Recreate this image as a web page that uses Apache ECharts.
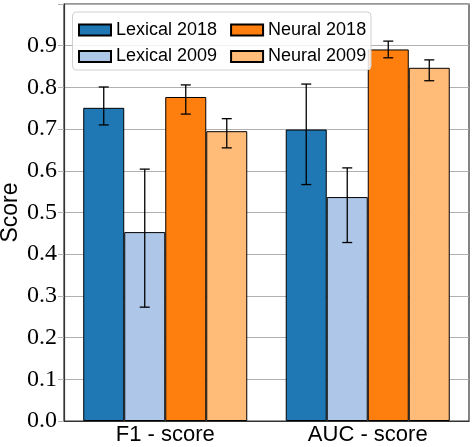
<!DOCTYPE html>
<html>
<head>
<meta charset="utf-8">
<script src="https://cdn.jsdelivr.net/npm/echarts@6/dist/echarts.min.js"></script>
<style>
html,body{margin:0;padding:0;background:#fff;}
#chart{width:475px;height:447px;}
</style>
</head>
<body>
<div id="chart"></div>
<script>
const categories = ['F1 - score', 'AUC - score'];
const seriesNames = ['Lexical 2018', 'Lexical 2009', 'Neural 2018', 'Neural 2009'];
const lexical2018 = [0.751, 0.699];
const lexical2009 = [0.453, 0.537];
const neural2018 = [0.777, 0.891];
const neural2009 = [0.695, 0.847];
// error bar [low, high] per category
const lexical2018Err = [[0.710, 0.801], [0.567, 0.808]];
const lexical2009Err = [[0.273, 0.604], [0.428, 0.607]];
const neural2018Err = [[0.736, 0.806], [0.871, 0.911]];
const neural2009Err = [[0.655, 0.725], [0.816, 0.866]];
const yTicks = [0.0, 0.1, 0.2, 0.3, 0.4, 0.5, 0.6, 0.7, 0.8, 0.9];

const colors = ['#1f77b4', '#aec7e8', '#ff7f0e', '#ffbb78'];
const values = [lexical2018, lexical2009, neural2018, neural2009];
const errs = [lexical2018Err, lexical2009Err, neural2018Err, neural2009Err];

const GROUP = 0.81;
const errData = [];
errs.forEach((arr, s) => arr.forEach((e, c) => errData.push([c, s, e[0], e[1]])));

const barSeries = seriesNames.map((n, i) => ({
  name: n,
  type: 'bar',
  data: values[i],
  barGap: '0%',
  barCategoryGap: '19%',
  itemStyle: { color: colors[i], borderColor: '#000', borderWidth: 1 },
  z: 3
}));

const errSeries = {
  type: 'custom',
  name: 'err',
  data: errData,
  encode: { x: 0, y: [2, 3] },
  z: 5,
  silent: true,
  renderItem: function (params, api) {
    const c = api.value(0), s = api.value(1);
    const lo = api.coord([c, api.value(2)]);
    const hi = api.coord([c, api.value(3)]);
    const band = api.size([1, 0])[0];
    const bw = band * GROUP / 4;
    const x = lo[0] + (s - 1.5) * bw;
    const cap = 5;
    const st = { stroke: '#000', lineWidth: 1.3 };
    return {
      type: 'group',
      children: [
        { type: 'line', shape: { x1: x, y1: lo[1], x2: x, y2: hi[1] }, style: st },
        { type: 'line', shape: { x1: x - cap, y1: lo[1], x2: x + cap, y2: lo[1] }, style: st },
        { type: 'line', shape: { x1: x - cap, y1: hi[1], x2: x + cap, y2: hi[1] }, style: st }
      ]
    };
  }
};

const legendText = { fontFamily: "'Liberation Sans', sans-serif", fontSize: 18, color: '#000', lineHeight: 18 };
const chart = echarts.init(document.getElementById('chart'), null, { renderer: 'canvas' });
chart.setOption({
  animation: false,
  backgroundColor: '#fff',
  grid: { left: 64, right: 6, top: 4, bottom: 26, show: true, borderColor: '#333', borderWidth: 1.2, containLabel: false, outerBoundsMode: 'none' },
  legend: [
    { data: [seriesNames[0], seriesNames[2]], left: 78, top: 21, padding: 0, icon: 'rect', itemWidth: 32, itemHeight: 11, itemGap: 13, textStyle: legendText, z: 20, selectedMode: false },
    { data: [seriesNames[1], seriesNames[3]], left: 78, top: 47.5, padding: 0, icon: 'rect', itemWidth: 32, itemHeight: 11, itemGap: 13, textStyle: legendText, z: 20, selectedMode: false }
  ],
  graphic: [{
    type: 'rect', z: 10, shape: { x: 72.5, y: 12, width: 298.5, height: 58, r: 4 },
    style: { fill: 'rgba(255,255,255,0.85)', stroke: '#d0d0d0', lineWidth: 1 }
  }],
  xAxis: {
    type: 'category',
    data: categories,
    axisTick: { show: false },
    axisLine: { show: true, lineStyle: { color: '#333', width: 1.2 } },
    axisLabel: { fontFamily: "'Liberation Sans', sans-serif", fontSize: 22, color: '#000', margin: 3 }
  },
  yAxis: {
    type: 'value',
    min: 0, max: 1.0, interval: 0.1,
    name: 'Score',
    nameLocation: 'middle',
    nameGap: 42,
    nameMoveOverlap: false,
    nameTextStyle: { fontFamily: "'Liberation Sans', sans-serif", fontSize: 23, color: '#000' },
    axisLine: { show: true, lineStyle: { color: '#333', width: 1.2 } },
    axisTick: { show: true, length: 6, lineStyle: { color: '#b0b0b0' } },
    splitLine: { show: true, lineStyle: { color: '#b0b0b0', width: 1 } },
    axisLabel: {
      fontFamily: "'Liberation Serif', 'DejaVu Serif', serif", fontSize: 24, color: '#000', margin: 7,
      formatter: function (v) {
        const t = yTicks.find(x => Math.abs(x - v) < 1e-6);
        return t === undefined ? '' : t.toFixed(1);
      }
    }
  },
  series: barSeries.concat([errSeries])
});
</script>
</body>
</html>
